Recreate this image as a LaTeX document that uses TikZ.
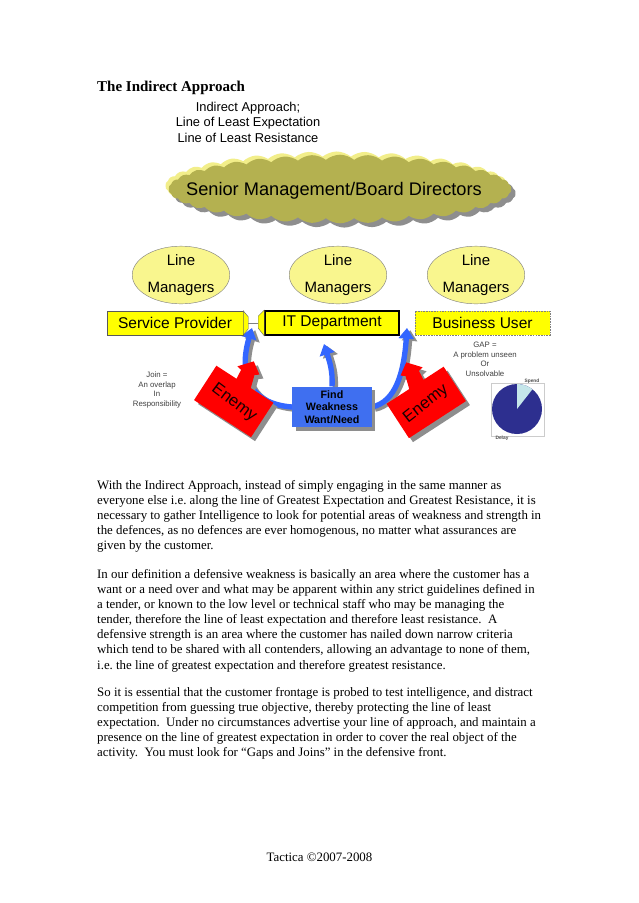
\documentclass[tikz,border=0pt]{standalone}
\usepackage{fontspec}
\setmainfont{Liberation Serif}
\newfontfamily\arialfont{Liberation Sans}
\usetikzlibrary{shapes.symbols, shapes.geometric, arrows.meta, backgrounds, shadows}

\definecolor{cloudolive}{HTML}{B4B150}
\definecolor{cloudglow}{HTML}{F2EE8A}
\definecolor{shadowgray}{HTML}{8E8E8E}
\definecolor{paleyellow}{HTML}{F9F68E}
\definecolor{boxyellow}{HTML}{FFFF00}
\definecolor{arrowblue}{HTML}{3366FF}
\definecolor{findblue}{HTML}{3F6FF0}
\definecolor{enemyred}{HTML}{FF0000}
\definecolor{pienavy}{HTML}{2D2F8F}
\definecolor{pielight}{HTML}{C5E6EA}

\begin{document}
\begin{tikzpicture}[x=0.9331pt, y=-0.9331pt, >=stealth,
    manager/.style={ellipse, draw=gray, fill=paleyellow, minimum width=91pt, minimum height=52pt, inner sep=0pt, align=center, font=\arialfont\fontsize{14}{17}\selectfont},
    unitbox/.style={fill=boxyellow, minimum height=22.4pt, inner sep=0pt, font=\arialfont\fontsize{14.5}{17}\selectfont},
    tab/.style={fill=boxyellow, draw=gray!80!black, line width=0.4pt},
    note/.style={align=center, font=\arialfont\fontsize{7.3}{8.9}\selectfont, text=black!75},
    blueflow/.style={draw=arrowblue, line width=5pt, -{Triangle[width=14pt, length=10pt]}},
    flowshadow/.style={draw=shadowgray, line width=5pt, -{Triangle[width=14pt, length=10pt]}, transform canvas={xshift=3pt, yshift=-2pt}},
    bodytext/.style={anchor=north west, inner sep=0pt, align=left, font=\fontsize{12}{14}\selectfont},
]
    \useasboundingbox (0,0) rectangle (638,903);

    % Heading
    \node[anchor=base west, inner sep=0pt, font=\bfseries\fontsize{14}{16}\selectfont] (title) at (97,91) {The Indirect Approach};
    \node[anchor=north, inner sep=0pt, align=center, font=\arialfont\fontsize{12}{14.5}\selectfont] (approach) at (248,101.5) {
        Indirect Approach;\\
        Line of Least Expectation\\
        Line of Least Resistance
    };

    % Board cloud
    \node[cloud, cloud puffs=38, cloud puff arc=80, cloud ignores aspect, minimum width=320pt, minimum height=64pt, fill=cloudolive,
        general shadow={fill=cloudglow, shadow xshift=-3pt, shadow yshift=3pt},
        drop shadow={fill=shadowgray, opacity=1, shadow xshift=4pt, shadow yshift=-4pt}] (board) at (340,189) {};
    \node[font=\arialfont\fontsize{17}{20}\selectfont] (boardtitle) at (334,191) {Senior Management/Board Directors};

    % Line managers
    \node[manager] (mgrleft) at (181,275) {Line\\[8pt]Managers};
    \node[manager] (mgrmid) at (338,275) {Line\\[8pt]Managers};
    \node[manager] (mgrright) at (476,275) {Line\\[8pt]Managers};

    % Units
    \node[unitbox, draw=gray!70!black, minimum width=127pt] (provider) at (175,323) {Service Provider};
    \node[unitbox, draw=black, line width=1.5pt, minimum width=125pt] (itdept) at (332,323) {IT Department};
    \node[unitbox, draw=gray, dash pattern=on 1.5pt off 1pt, minimum width=126pt] (business) at (482.5,323) {Business User};

    % Join between provider and IT
    \filldraw[tab] (provider.north east) -- ++(5,6) -- ++(0,12) -- (provider.south east) -- cycle;
    \filldraw[tab] (itdept.north west) -- ++(-6,6) -- ++(0,12) -- (itdept.south west) -- cycle;
    \draw[gray, line width=0.8pt] ([xshift=4.7pt]provider.east) -- ([xshift=-5.6pt]itdept.west);

    % Notes
    \node[note] (joinnote) at (157,390) {Join =\\An overlap\\In\\Responsibility};
    \node[note] (gapnote) at (485,359.5) {GAP =\\A problem unseen\\Or\\Unsolvable};

    % Find box
    \node[fill=findblue, minimum width=74pt, minimum height=38pt, inner sep=0pt, align=center,
        font=\arialfont\bfseries\fontsize{10}{11.7}\selectfont,
        drop shadow={fill=shadowgray, opacity=1, shadow xshift=3.5pt, shadow yshift=-3.5pt}] (find) at (332,407) {Find\\Weakness\\Want/Need};

    \coordinate (joinpoint) at (252,328);
    \coordinate (gappoint) at (407,328);
    \coordinate (itpoint) at (324,344);

    % Flows (behind boxes)
    \begin{scope}[on background layer]
        \fill[white] (0,0) rectangle (638,903);
        \draw[flowshadow] (find.west) .. controls (250,404) and (238,375) .. (joinpoint);
        \draw[flowshadow] (find.east) .. controls (396,402) and (404,372) .. (gappoint);
        \draw[flowshadow] (find.north) .. controls (333,370) and (329,360) .. (itpoint);
        \draw[blueflow] (find.west) .. controls (250,404) and (238,375) .. (joinpoint);
        \draw[blueflow] (find.east) .. controls (396,402) and (404,372) .. (gappoint);
        \draw[blueflow] (find.north) .. controls (333,370) and (329,360) .. (itpoint);
    \end{scope}

    % Enemies
    \foreach \ex/\ey/\tilt/\flip/\textangle/\enemyname in {234/401/-33/1/-37/enemyleft, 426/402/33/-1/38/enemyright} {
        \fill[shadowgray, shift={(\ex+4,\ey+4)}, rotate=\tilt, xscale=\flip]
            (-34,-20) -- (-10,-20) -- (-11,-30) -- (-16,-31) -- (-5,-44) -- (7,-36) -- (3,-33) -- (7,-20)
            -- (34,-20) -- (34,21) -- (-34,21) -- cycle;
        \fill[enemyred, shift={(\ex,\ey)}, rotate=\tilt, xscale=\flip]
            (-34,-20) -- (-10,-20) -- (-11,-30) -- (-16,-31) -- (-5,-44) -- (7,-36) -- (3,-33) -- (7,-20)
            -- (34,-20) -- (34,21) -- (-34,21) -- cycle;
        \node[rotate=\textangle, inner sep=0pt, font=\arialfont\fontsize{15.5}{18}\selectfont, text=black!90!red] (\enemyname) at (\ex,\ey+2) {Enemy};
    }

    % Pie chart
    \node[draw=gray!40, minimum width=49.5pt, minimum height=49.5pt, inner sep=0pt] (pieframe) at (517.5,409.5) {};
    \coordinate (pie) at (517,409);
    \fill[pienavy] (pie) circle[radius=25];
    \fill[pielight] (pie) -- ++(-90:25) arc[start angle=-90, end angle=-52, radius=25] -- cycle;
    \node[font=\arialfont\bfseries\fontsize{4.5}{5}\selectfont, text=black!70] (spendlabel) at (532,381) {Spend};
    \node[font=\arialfont\bfseries\fontsize{4.5}{5}\selectfont, text=black!70] (delaylabel) at (502,438) {Delay};

    % Body text
    \node[bodytext] (para1) at (97,480.7) {
        With the Indirect Approach, instead of simply engaging in the same manner as\\
        everyone else i.e.\ along the line of Greatest Expectation and Greatest Resistance, it is\\
        necessary to gather Intelligence to look for potential areas of weakness and strength in\\
        the defences, as no defences are ever homogenous, no matter what assurances are\\
        given by the customer.
    };
    \node[bodytext] (para2) at (97,569.7) {
        In our definition a defensive weakness is basically an area where the customer has a\\
        want or a need over and what may be apparent within any strict guidelines defined in\\
        a tender, or known to the low level or technical staff who may be managing the\\
        tender, therefore the line of least expectation and therefore least resistance.\ \ A\\
        defensive strength is an area where the customer has nailed down narrow criteria\\
        which tend to be shared with all contenders, allowing an advantage to none of them,\\
        i.e.\ the line of greatest expectation and therefore greatest resistance.
    };
    \node[bodytext] (para3) at (97,687.7) {
        So it is essential that the customer frontage is probed to test intelligence, and distract\\
        competition from guessing true objective, thereby protecting the line of least\\
        expectation.\ \ Under no circumstances advertise your line of approach, and maintain a\\
        presence on the line of greatest expectation in order to cover the real object of the\\
        activity.\ \ You must look for ``Gaps and Joins'' in the defensive front.
    };

    % Footer
    \node[font=\fontsize{12}{14}\selectfont] (footer) at (319.5,857) {Tactica ©2007-2008};
\end{tikzpicture}
\end{document}
